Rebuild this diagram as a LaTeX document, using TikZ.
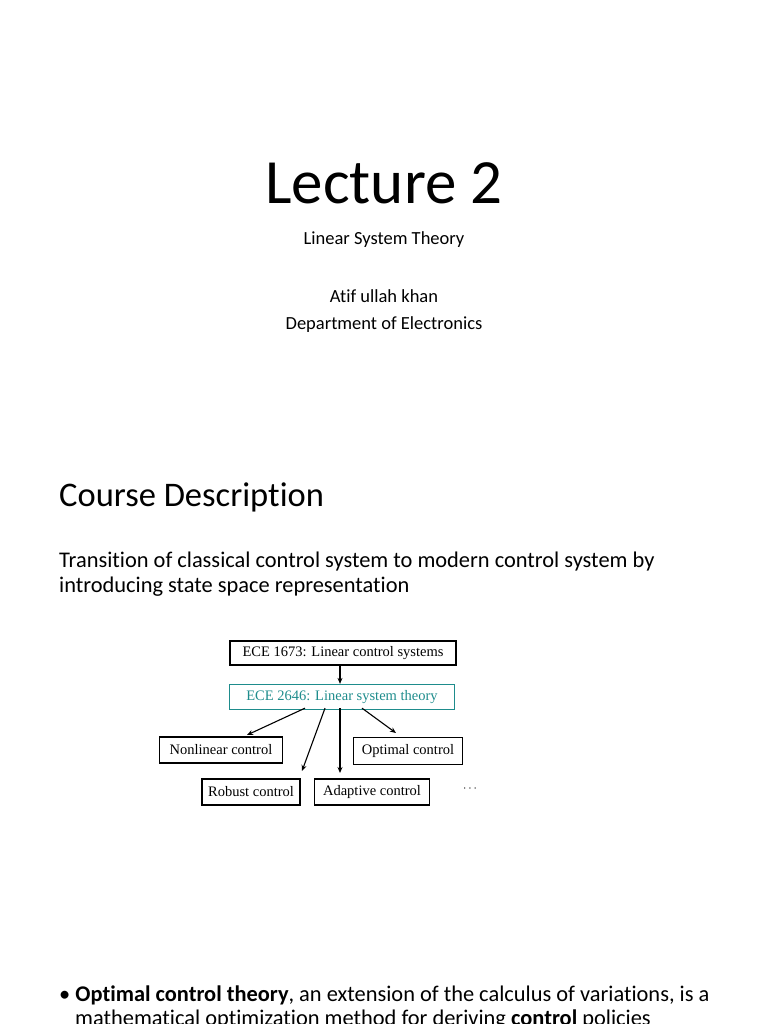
\documentclass[tikz,border=0pt]{standalone}
\usepackage{fontspec}
\usetikzlibrary{arrows.meta}
\setmainfont[RawFeature=-liga]{Carlito}
\newfontfamily\tms{Liberation Serif}
\definecolor{tealb}{RGB}{30,140,140}
\begin{document}
\begin{tikzpicture}[x=1pt,y=-1pt,
 box/.style={draw,line width=1.3pt,inner sep=0pt,font=\tms\fontsize{14.5}{14.5}\selectfont},
 arr/.style={-{Stealth[length=6pt,width=5pt]},line width=1.1pt}]
\useasboundingbox (0,0) rectangle (768,1024);
\node (title) at (384,183) {\fontsize{63}{63}\selectfont Lecture 2};
\node (sub) at (384,240) {\fontsize{18.5}{18.5}\selectfont Linear System Theory};
\node (auth) at (384,296) {\fontsize{18.5}{18.5}\selectfont Atif ullah khan};
\node (dept) at (384,325) {\fontsize{18.5}{18.5}\selectfont Department of Electronics};
\node[anchor=west,inner sep=0pt] (cd) at (59,497) {\fontsize{34.5}{34.5}\selectfont Course Description};
\node[anchor=west,inner sep=0pt] (t1) at (59,562) {\fontsize{22.4}{22.4}\selectfont Transition of classical control system to modern control system by};
\node[anchor=west,inner sep=0pt] (t2) at (59,587) {\fontsize{22.4}{22.4}\selectfont introducing state space representation};
\node[box,minimum width=226,minimum height=24] (a) at (343,653) {ECE 1673: Linear control systems};
\node[box,draw=tealb,text=tealb,minimum width=225,minimum height=25] (b) at (342,697) {ECE 2646: Linear system theory};
\node[box,minimum width=123,minimum height=26] (n) at (221,750) {Nonlinear control};
\node[box,minimum width=109,minimum height=27] (o) at (408,751) {Optimal control};
\node[box,minimum width=98,minimum height=26] (r) at (251,792) {Robust control};
\node[box,minimum width=115,minimum height=26] (ad) at (372,792) {Adaptive control};
\node[font=\tms\fontsize{12}{12}\selectfont] (dots) at (470,789) {$\cdots$};
\draw[arr] (a.south -| 340,0) -- (b.north -| 340,0);
\coordinate (n1) at (247,735);
\coordinate (r1) at (302,771);
\coordinate (ad1) at (340,773);
\coordinate (o1) at (396,733);
\draw[arr] ([xshift=-37pt,yshift=2pt]b.south) -- (n1);
\draw[arr] ([xshift=-17pt,yshift=2pt]b.south) -- (r1);
\draw[arr] ([xshift=-2pt,yshift=2pt]b.south) -- (ad1);
\draw[arr] ([xshift=20pt,yshift=2pt]b.south) -- (o1);
\node[anchor=west,inner sep=0pt] (bl1) at (59,995) {\fontsize{22.4}{22.4}\selectfont \textbullet\ \textbf{Optimal control theory}, an extension of the calculus of variations, is a};
\node[anchor=west,inner sep=0pt] (bl2) at (75,1020) {\fontsize{22.4}{22.4}\selectfont mathematical optimization method for deriving \textbf{control} policies};
\end{tikzpicture}
\end{document}
